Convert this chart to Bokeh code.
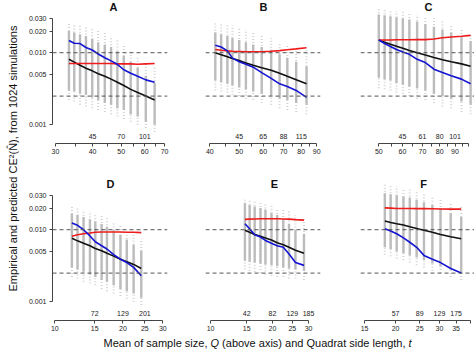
import math
from bokeh.plotting import figure
from bokeh.layouts import row, column
from bokeh.models import FixedTicker, PrintfTickFormatter, Span, Label, Range1d
from bokeh.embed import file_html
from bokeh.resources import INLINE
from bokeh.core.properties import value

FONT = "Liberation Sans"

# ---------------- data ----------------
# Panel A
A_t = [33.3, 34.7, 36.3, 38.0, 39.9, 41.8, 44.0, 46.2, 48.5, 51.0, 53.8, 56.8, 60.5, 64.8]
A_blue = [0.0148, 0.0135, 0.0134, 0.0118, 0.0109, 0.0096, 0.0085, 0.0077, 0.0069, 0.0058, 0.0052, 0.0047, 0.0042, 0.0039]
A_red = [0.0071, 0.0071, 0.0071, 0.0071, 0.0071, 0.0071, 0.0071, 0.0071, 0.0070, 0.0070, 0.0070, 0.0069, 0.0070, 0.0071]
A_black = [0.0081, 0.0074, 0.0067, 0.0061, 0.0056, 0.0051, 0.0047, 0.0043, 0.0039, 0.0035, 0.0031, 0.0028, 0.0025, 0.0022]
A_core_hi = [0.020, 0.019, 0.018, 0.017, 0.0155, 0.014, 0.013, 0.012, 0.0105, 0.009, 0.0075, 0.0062, 0.0048, 0.0038]
A_core_lo = [0.0030, 0.0029, 0.0027, 0.0026, 0.0024, 0.0022, 0.0020, 0.0019, 0.0017, 0.0016, 0.0014, 0.0013, 0.0011, 0.0010]
A_out_hi = [0.026, 0.025, 0.024, 0.023, 0.022, 0.020, 0.019, 0.017, 0.015, 0.013, 0.011, 0.009, 0.0075, 0.0065]
A_out_lo = [0.0022, 0.0021, 0.0019, 0.0018, 0.0017, 0.0016, 0.0015, 0.0014, 0.0013, 0.0012, 0.0011, 0.0010, 0.0009, 0.0008]
A_xticks = [30, 40, 50, 60, 70]
A_xminor = [35, 45, 55, 65]
A_qt = [40, 50, 60]
A_ql = ["45", "70", "101"]

# Panel B
B_t = [41.7, 43.6, 45.7, 47.5, 50.0, 52.6, 55.6, 59.3, 63.7, 67.9, 72.0, 77.0, 83.3]
B_blue = [0.0127, 0.0120, 0.0106, 0.0084, 0.0075, 0.0069, 0.0063, 0.0053, 0.0044, 0.0037, 0.0034, 0.0030, 0.0024]
B_red = [0.0111, 0.0108, 0.0106, 0.0105, 0.0104, 0.0103, 0.0103, 0.0103, 0.0105, 0.0107, 0.0110, 0.0113, 0.0117]
B_black = [0.0100, 0.0094, 0.0088, 0.0083, 0.0078, 0.0072, 0.0067, 0.0062, 0.0057, 0.0052, 0.0047, 0.0042, 0.0037]
B_core_hi = [0.019, 0.018, 0.017, 0.016, 0.015, 0.014, 0.013, 0.012, 0.011, 0.0095, 0.0085, 0.0075, 0.0065]
B_core_lo = [0.0041, 0.0039, 0.0037, 0.0035, 0.0033, 0.0031, 0.0029, 0.0027, 0.0025, 0.0023, 0.0022, 0.0020, 0.0019]
B_out_hi = [0.027, 0.026, 0.025, 0.024, 0.022, 0.021, 0.019, 0.017, 0.016, 0.014, 0.013, 0.012, 0.011]
B_out_lo = [0.0030, 0.0029, 0.0028, 0.0026, 0.0025, 0.0023, 0.0022, 0.0020, 0.0019, 0.0017, 0.0016, 0.0015, 0.0014]
B_xticks = [40, 50, 60, 70, 80, 90]
B_xminor = [45, 55, 65, 75, 85]
B_qt = [50, 60, 70, 80]
B_ql = ["45", "65", "88", "115"]

# Panel C
C_t = [50.0, 52.3, 54.7, 57.3, 60.2, 63.3, 67.2, 71.6, 76.5, 81.7, 87.4, 94.6, 101.5]
C_blue = [0.0150, 0.0134, 0.0122, 0.0111, 0.0102, 0.0095, 0.0081, 0.0073, 0.0059, 0.0053, 0.0048, 0.0043, 0.0037]
C_red = [0.0150, 0.0150, 0.0150, 0.0151, 0.0151, 0.0151, 0.0152, 0.0152, 0.0155, 0.0161, 0.0165, 0.0169, 0.0174]
C_black = [0.0150, 0.0140, 0.0131, 0.0123, 0.0115, 0.0107, 0.0100, 0.0093, 0.0086, 0.0080, 0.0075, 0.0070, 0.0065]
C_core_hi = [0.034, 0.033, 0.032, 0.031, 0.030, 0.029, 0.027, 0.025, 0.023, 0.021, 0.019, 0.017, 0.0145]
C_core_lo = [0.0045, 0.0043, 0.0041, 0.0038, 0.0036, 0.0034, 0.0032, 0.0030, 0.0027, 0.0025, 0.0023, 0.0021, 0.0019]
C_out_hi = [0.040, 0.040, 0.039, 0.038, 0.037, 0.036, 0.034, 0.032, 0.030, 0.027, 0.024, 0.021, 0.018]
C_out_lo = [0.0032, 0.0031, 0.0030, 0.0028, 0.0027, 0.0025, 0.0023, 0.0022, 0.0020, 0.0018, 0.0017, 0.0015, 0.0014]
C_xticks = [50, 60, 70, 80, 90]
C_xminor = [55, 65, 75, 85, 95, 100]
C_qt = [60, 70, 80, 90]
C_ql = ["45", "61", "80", "101"]

# Panel D
D_t = [11.9, 12.6, 13.4, 14.3, 15.1, 16.1, 17.0, 18.2, 19.5, 20.8, 22.3, 24.1]
D_blue = [0.0124, 0.0115, 0.0100, 0.0082, 0.0068, 0.0060, 0.0054, 0.0045, 0.0039, 0.0035, 0.0030, 0.0023]
D_red = [0.0081, 0.0085, 0.0088, 0.0090, 0.0092, 0.0093, 0.0093, 0.0093, 0.0093, 0.0092, 0.0092, 0.0091]
D_black = [0.0076, 0.0070, 0.0065, 0.0060, 0.0055, 0.0051, 0.0047, 0.0043, 0.0039, 0.0036, 0.0033, 0.0029]
D_core_hi = [0.0167, 0.0160, 0.0150, 0.0140, 0.0130, 0.0120, 0.0110, 0.0098, 0.0085, 0.0073, 0.0062, 0.0051]
D_core_lo = [0.0030, 0.0028, 0.0026, 0.0024, 0.0022, 0.0020, 0.0019, 0.0017, 0.0015, 0.0014, 0.0013, 0.00114]
D_out_hi = [0.021, 0.020, 0.019, 0.018, 0.017, 0.016, 0.015, 0.013, 0.012, 0.010, 0.009, 0.0075]
D_out_lo = [0.0022, 0.0021, 0.0019, 0.0018, 0.0017, 0.0015, 0.0014, 0.0013, 0.0012, 0.0011, 0.0010, 0.0009]
D_xticks = [10, 15, 20, 25, 30]
D_xminor = []
D_qt = [15, 20, 25]
D_ql = ["72", "129", "201"]

# Panel E
E_t = [14.7, 15.5, 16.4, 17.5, 18.5, 19.8, 21.1, 22.6, 24.1, 25.9, 28.5]
E_blue = [0.0121, 0.0103, 0.0085, 0.0079, 0.0071, 0.0065, 0.0060, 0.0057, 0.0046, 0.0035, 0.0032]
E_red = [0.0139, 0.0140, 0.0141, 0.0142, 0.0142, 0.0142, 0.0142, 0.0141, 0.0140, 0.0138, 0.0136]
E_black = [0.0098, 0.0092, 0.0086, 0.0081, 0.0077, 0.0072, 0.0066, 0.0062, 0.0057, 0.0052, 0.0047]
E_core_hi = [0.0232, 0.022, 0.021, 0.020, 0.019, 0.017, 0.016, 0.014, 0.012, 0.010, 0.0088]
E_core_lo = [0.0037, 0.0036, 0.0035, 0.0034, 0.0033, 0.0032, 0.0031, 0.0030, 0.0029, 0.0028, 0.0027]
E_out_hi = [0.026, 0.026, 0.025, 0.024, 0.023, 0.022, 0.020, 0.019, 0.018, 0.016, 0.015]
E_out_lo = [0.0028, 0.0027, 0.0026, 0.0025, 0.0024, 0.0023, 0.0022, 0.0022, 0.0021, 0.0021, 0.0020]
E_xticks = [10, 15, 20, 25, 30]
E_xminor = []
E_qt = [15, 20, 25, 30]
E_ql = ["42", "82", "129", "185"]

# Panel F
F_t = [18.1, 19.1, 20.2, 21.5, 22.8, 24.3, 26.0, 28.1, 30.3, 33.3, 36.7]
F_blue = [0.0103, 0.0096, 0.0088, 0.0077, 0.0067, 0.0057, 0.0044, 0.0039, 0.0035, 0.0029, 0.0025]
F_red = [0.0201, 0.0199, 0.0197, 0.0197, 0.0197, 0.0196, 0.0196, 0.0195, 0.0194, 0.0193, 0.0193]
F_black = [0.0132, 0.0126, 0.0121, 0.0116, 0.0110, 0.0104, 0.0098, 0.0092, 0.0086, 0.0080, 0.0075]
F_core_hi = [0.032, 0.031, 0.030, 0.029, 0.028, 0.026, 0.024, 0.022, 0.020, 0.017, 0.015]
F_core_lo = [0.0057, 0.0054, 0.0050, 0.0047, 0.0044, 0.0041, 0.0038, 0.0034, 0.0031, 0.0028, 0.0025]
F_out_hi = [0.042, 0.041, 0.040, 0.038, 0.036, 0.034, 0.032, 0.029, 0.027, 0.024, 0.022]
F_out_lo = [0.0045, 0.0043, 0.0040, 0.0038, 0.0035, 0.0032, 0.0030, 0.0027, 0.0025, 0.0022, 0.0020]
F_xticks = [15, 20, 25, 30, 35]
F_xminor = [40]
F_qt = [20, 25, 30, 35]
F_ql = ["57", "89", "129", "175"]

Y_TICKS = [0.001, 0.005, 0.010, 0.020, 0.030]
REF_LEVELS = [0.010, 0.0025]

Y_LABEL = "Empirical and predicted CE\u00b2(N\u0302), from 1024 simulations"
X_LABEL_PARTS = [("Mean of sample size, ", "normal"), ("Q", "italic"),
                 (" (above axis) and Quadrat side length, ", "normal"), ("t", "italic")]

# ---------------- layout / style ----------------
YLO, YHI = 0.00055, 0.053
FRAME_H = 143
RED, BLUE, BLACK = "#ee1c1c", "#1414d2", "#111111"

panels = [
    dict(name="A", t=A_t, blue=A_blue, red=A_red, black=A_black, chi=A_core_hi, clo=A_core_lo,
         ohi=A_out_hi, olo=A_out_lo, xt=A_xticks, xm=A_xminor, qt=A_qt, ql=A_ql,
         xr=(29.31, 71.6), fw=115, bl=30, br=19, yaxis=True, tx=61),
    dict(name="B", t=B_t, blue=B_blue, red=B_red, black=B_black, chi=B_core_hi, clo=B_core_lo,
         ohi=B_out_hi, olo=B_out_lo, xt=B_xticks, xm=B_xminor, qt=B_qt, ql=B_ql,
         xr=(38.72, 92.6), fw=115, bl=19, br=20, yaxis=False, tx=58),
    dict(name="C", t=C_t, blue=C_blue, red=C_red, black=C_black, chi=C_core_hi, clo=C_core_lo,
         ohi=C_out_hi, olo=C_out_lo, xt=C_xticks, xm=C_xminor, qt=C_qt, ql=C_ql,
         xr=(43.42, 104.6), fw=114, bl=20, br=0, yaxis=False, tx=68),
    dict(name="D", t=D_t, blue=D_blue, red=D_red, black=D_black, chi=D_core_hi, clo=D_core_lo,
         ohi=D_out_hi, olo=D_out_lo, xt=D_xticks, xm=D_xminor, qt=D_qt, ql=D_ql,
         xr=(9.77, 31.47), fw=115, bl=30, br=19, yaxis=True, tx=58),
    dict(name="E", t=E_t, blue=E_blue, red=E_red, black=E_black, chi=E_core_hi, clo=E_core_lo,
         ohi=E_out_hi, olo=E_out_lo, xt=E_xticks, xm=E_xminor, qt=E_qt, ql=E_ql,
         xr=(9.45, 34.3), fw=115, bl=19, br=20, yaxis=False, tx=69),
    dict(name="F", t=F_t, blue=F_blue, red=F_red, black=F_black, chi=F_core_hi, clo=F_core_lo,
         ohi=F_out_hi, olo=F_out_lo, xt=F_xticks, xm=F_xminor, qt=F_qt, ql=F_ql,
         xr=(14.45, 41.5), fw=114, bl=20, br=0, yaxis=False, tx=63),
]

px_per_dec = FRAME_H / math.log10(YHI / YLO)
QY = YLO * 10 ** (7.0 / px_per_dec)


def make_panel(d, bottom_border):
    p = figure(frame_width=d["fw"], frame_height=FRAME_H,
               x_axis_type="log", y_axis_type="log",
               x_range=Range1d(*d["xr"]), y_range=Range1d(YLO, YHI),
               y_axis_location="left" if d["yaxis"] else None,
               toolbar_location=None, output_backend="svg", title=None,
               min_border_left=d["bl"], min_border_right=d["br"],
               min_border_top=0, min_border_bottom=bottom_border)
    p.outline_line_color = None
    p.xgrid.visible = False
    p.ygrid.visible = False
    p.background_fill_color = "white"
    p.border_fill_color = "white"

    t = d["t"]
    # simulation clouds: sparse outer spread, dense core
    p.segment(x0=t, x1=t, y0=d["olo"], y1=d["ohi"], line_color="#d2d2d2",
              line_width=2, line_dash="1 2")
    p.segment(x0=t, x1=t, y0=d["clo"], y1=d["chi"], line_color="#bcbcbc",
              line_width=2.4)

    for lv in REF_LEVELS:
        p.add_layout(Span(location=lv, dimension="width", line_color="#555555",
                          line_dash="4 3", line_width=1))

    p.line(t, d["black"], line_color=BLACK, line_width=1.6)
    p.line(t, d["red"], line_color=RED, line_width=1.6)
    p.line(t, d["blue"], line_color=BLUE, line_width=1.6)

    # Q labels above the t axis
    p.text(x=d["qt"], y=[QY] * len(d["qt"]), text=d["ql"], text_font=value(FONT),
           text_font_size="7px", text_align="center", text_baseline="middle",
           text_color="#222222")

    ax = p.xaxis[0]
    ax.ticker = FixedTicker(ticks=d["xt"], minor_ticks=d["xm"])
    ax.formatter = PrintfTickFormatter(format="%d")
    end = max(d["xt"] + d["xm"])
    ax.bounds = (d["xt"][0], end)
    ax.major_label_text_font = FONT
    ax.major_label_text_font_size = "7px"
    ax.major_label_text_color = "#222222"
    ax.major_label_standoff = 2
    ax.major_tick_in = 0
    ax.major_tick_out = 3
    ax.minor_tick_in = 0
    ax.minor_tick_out = 3
    ax.axis_line_color = "#444444"
    ax.major_tick_line_color = "#444444"
    ax.minor_tick_line_color = "#444444"

    if d["yaxis"]:
        ay = p.yaxis[0]
        ay.ticker = FixedTicker(ticks=Y_TICKS, minor_ticks=[])
        ay.formatter = PrintfTickFormatter(format="%.3f")
        ay.bounds = (Y_TICKS[0], Y_TICKS[-1])
        ay.major_label_text_font = FONT
        ay.major_label_text_font_size = "7px"
        ay.major_label_text_color = "#222222"
        ay.major_label_standoff = 3
        ay.major_tick_in = 0
        ay.major_tick_out = 3
        ay.axis_line_color = "#444444"
        ay.major_tick_line_color = "#444444"

    p.add_layout(Label(x=d["tx"], y=FRAME_H - 6.5, x_units="screen", y_units="screen",
                       text=d["name"], text_align="center", text_baseline="middle",
                       text_font=FONT, text_font_style="bold", text_font_size="11px",
                       text_color="#111111"))
    return p


top = [make_panel(d, 34) for d in panels[:3]]
bot = [make_panel(d, 13) for d in panels[3:]]

# y label figure
yl = figure(width=22, height=333, x_range=Range1d(0, 22), y_range=Range1d(333, 0),
            x_axis_location=None, y_axis_location=None, toolbar_location=None,
            output_backend="svg", title=None, min_border=0)
yl.outline_line_color = None
yl.grid.visible = False
yl.text(x=[12.5], y=[158], text=[Y_LABEL], angle=math.pi / 2, text_font=value(FONT),
        text_font_size="11px", text_align="center", text_baseline="alphabetic",
        text_color="#111111")

# x label figure (mixed italic pieces, advance widths of Arial/Liberation Sans)
AW = {"M": 833, "e": 556, "a": 556, "n": 556, " ": 278, "o": 556, "f": 278, "s": 500,
      "m": 833, "p": 556, "l": 222, "i": 222, "z": 500, ",": 278, "Q": 778, "(": 333,
      "b": 556, "v": 500, "x": 500, ")": 333, "d": 556, "u": 556, "r": 333, "t": 278,
      "h": 556, "g": 556}
XL_SIZE = 11


def adv(s):
    return sum(AW.get(c, 556) for c in s) * XL_SIZE / 1000.0


xl = figure(width=474, height=20, x_range=Range1d(0, 474), y_range=Range1d(20, 0),
            x_axis_location=None, y_axis_location=None, toolbar_location=None,
            output_backend="svg", title=None, min_border=0)
xl.outline_line_color = None
xl.grid.visible = False
cx = 103.0
for s, st in X_LABEL_PARTS:
    core = s.strip(" ")
    lead = len(s) - len(s.lstrip(" "))
    x0 = cx + adv(" " * lead)
    xl.text(x=[x0], y=[9], text=[core], text_font=value(FONT), text_font_size="11px",
            text_font_style=st, text_align="left", text_baseline="alphabetic",
            text_color="#111111")
    cx += adv(s)

layout = column(row(yl, column(row(*top), row(*bot))), xl)

open("out.html", "w").write(file_html(layout, INLINE))
